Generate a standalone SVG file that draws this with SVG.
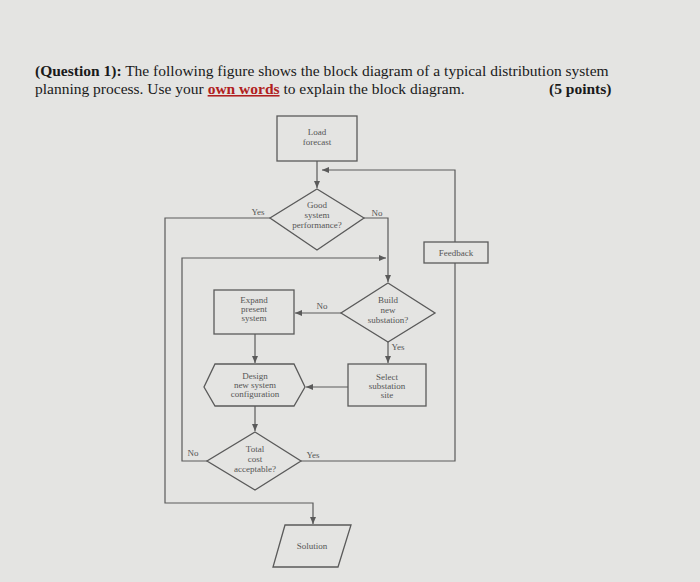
<svg xmlns="http://www.w3.org/2000/svg" width="700" height="582" viewBox="0 0 700 582">
<style>
.h{font-family:"Liberation Serif",serif;font-size:15.5px;fill:#1a1a1a}
.t{font-family:"Liberation Serif",serif;font-size:9px;fill:#555;text-anchor:middle}
.s{fill:none;stroke:#5a5a5a;stroke-width:1.3}
.c{fill:none;stroke:#5a5a5a;stroke-width:1.2}
</style>
<defs><marker id="a" markerWidth="8" markerHeight="8" refX="7" refY="4" orient="auto" markerUnits="userSpaceOnUse"><path d="M0,1L7,4L0,7z" fill="#5a5a5a"/></marker></defs>
<rect width="700" height="582" fill="#e4e4e2"/>
<text class="h" x="35" y="76"><tspan font-weight="bold">(Question 1):</tspan> The following figure shows the block diagram of a typical distribution system</text>
<text class="h" x="35" y="94">planning process. Use your <tspan font-weight="bold" fill="#b02020" text-decoration="underline">own words</tspan> to explain the block diagram.</text>
<text class="h" x="549" y="94" font-weight="bold">(5 points)</text>
<g id="connectors">
<path class="c" d="M317,161V188" marker-end="url(#a)"/>
<path class="c" d="M455,242V170H322" marker-end="url(#a)"/>
<path class="c" d="M455,263V461H301"/>
<path class="c" d="M364,218H388V282" marker-end="url(#a)"/>
<path class="c" d="M270,218H165V503H313V524" marker-end="url(#a)"/>
<path class="c" d="M207,461H182V258H386" marker-end="url(#a)"/>
<path class="c" d="M341,313H295" marker-end="url(#a)"/>
<path class="c" d="M255,334V363" marker-end="url(#a)"/>
<path class="c" d="M388,342V363" marker-end="url(#a)"/>
<path class="c" d="M348,387H306" marker-end="url(#a)"/>
<path class="c" d="M255,406V431" marker-end="url(#a)"/>
<text class="t" x="258" y="215">Yes</text>
<text class="t" x="377" y="216">No</text>
<text class="t" x="322" y="309">No</text>
<text class="t" x="398" y="350">Yes</text>
<text class="t" x="193" y="456">No</text>
<text class="t" x="313" y="458">Yes</text>
</g>
<g id="load"><rect class="s" x="277" y="116" width="80" height="45"/><text class="t" x="317" y="135">Load</text><text class="t" x="317" y="145">forecast</text></g>
<g id="good"><polygon class="s" points="317,189 364,218 317,250 270,218"/><text class="t" x="317" y="208">Good</text><text class="t" x="317" y="218">system</text><text class="t" x="317" y="228">performance?</text></g>
<g id="feedback"><rect class="s" x="424" y="242" width="64" height="21"/><text class="t" x="456" y="256">Feedback</text></g>
<g id="build"><polygon class="s" points="388,283 435,313 388,342 341,313"/><text class="t" x="388" y="303">Build</text><text class="t" x="388" y="313">new</text><text class="t" x="388" y="323">substation?</text></g>
<g id="expand"><rect class="s" x="214" y="290" width="80" height="44"/><text class="t" x="254" y="303">Expand</text><text class="t" x="254" y="312">present</text><text class="t" x="254" y="321">system</text></g>
<g id="select"><rect class="s" x="348" y="364" width="78" height="42"/><text class="t" x="387" y="380">Select</text><text class="t" x="387" y="389">substation</text><text class="t" x="387" y="398">site</text></g>
<g id="design"><polygon class="s" points="215,364 294,364 305,387 294,406 215,406 204,387"/><text class="t" x="255" y="379">Design</text><text class="t" x="255" y="388">new system</text><text class="t" x="255" y="397">configuration</text></g>
<g id="total"><polygon class="s" points="255,432 301,461 255,490 207,461"/><text class="t" x="255" y="452">Total</text><text class="t" x="255" y="462">cost</text><text class="t" x="255" y="472">acceptable?</text></g>
<g id="solution"><polygon class="s" points="285,525 351,525 338,567 273,567"/><text class="t" x="312" y="549">Solution</text></g>
</svg>
